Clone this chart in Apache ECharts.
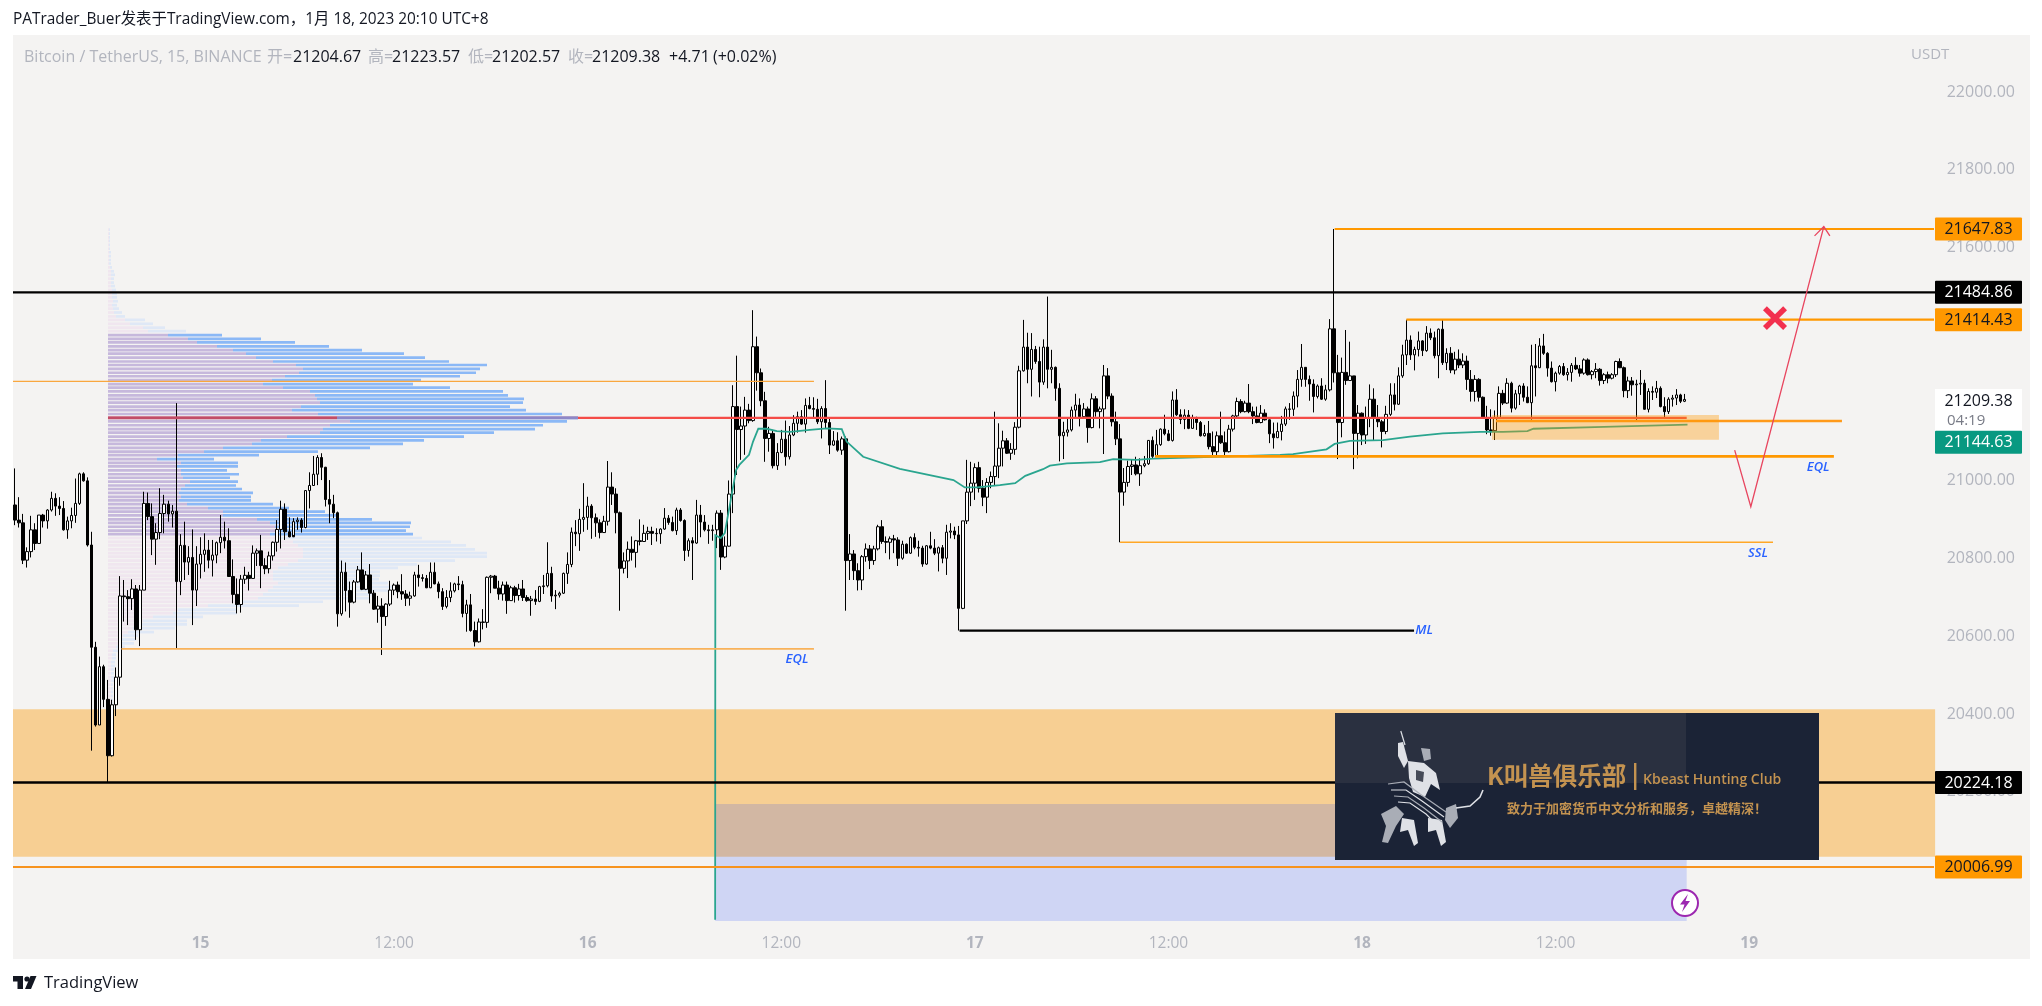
<!DOCTYPE html>
<html><head><meta charset="utf-8">
<script src="https://cdn.jsdelivr.net/npm/echarts@6/dist/echarts.min.js"></script>
<style>
html,body{margin:0;padding:0;background:#fff;width:2042px;height:1006px;overflow:hidden}
#panel{position:absolute;left:13px;top:35px;width:2017px;height:924px;background:#f4f3f2}
#c{position:absolute;left:0;top:0;width:2042px;height:1006px}
</style></head><body><div id="panel"></div><div id="c"></div>
<script>
const firstOpen = 20938;
const closes = [
20899,20892,20796,20818,20874,20839,20912,20897,20925,20955,
20935,20929,20874,20897,20911,20942,21018,21000,20835,20572,
20372,20522,20438,20293,20424,20495,20704,20702,20697,20722,
20617,20719,20942,20908,20850,20867,20916,20940,20915,20922,
20741,20834,20791,20803,20719,20786,20811,20822,20796,20809,
20841,20855,20846,20754,20708,20682,20747,20757,20749,20814,
20820,20782,20774,20807,20842,20875,20927,20869,20856,20895,
20899,20880,20975,20988,21017,21060,21035,20952,20940,20918,
20658,20765,20718,20688,20740,20771,20721,20758,20711,20670,
20678,20651,20683,20719,20732,20715,20709,20698,20704,20758,
20751,20749,20725,20765,20735,20715,20677,20700,20717,20735,
20733,20659,20681,20615,20586,20637,20636,20752,20755,20724,
20709,20732,20692,20725,20705,20722,20700,20692,20696,20690,
20728,20730,20762,20704,20706,20711,20762,20785,20868,20864,
20901,20906,20935,20905,20892,20867,20896,20984,20966,20918,
20775,20794,20824,20816,20846,20844,20865,20870,20865,20864,
20876,20904,20893,20872,20925,20898,20821,20846,20840,20912,
20894,20874,20872,20874,20917,20804,20832,20966,21191,21132,
21141,21182,21155,21345,21278,21206,21109,21122,21039,21073,
21107,21062,21118,21148,21165,21146,21194,21186,21184,21152,
21186,21150,21092,21103,21079,21108,20795,20812,20769,20745,
20805,20825,20795,20825,20882,20844,20842,20851,20848,20801,
20837,20814,20854,20829,20827,20786,20833,20827,20814,20828,
20801,20868,20871,20861,20672,20897,20971,20994,21034,20981,
20958,20996,21011,21038,21084,21103,21071,21081,21138,21283,
21344,21287,21338,21307,21254,21344,21287,21292,21238,21116,
21125,21131,21182,21195,21165,21185,21137,21211,21178,21185,
21270,21218,21152,21108,20971,20996,21037,21041,21018,21039,
21044,21104,21063,21093,21133,21121,21104,21208,21170,21158,
21169,21135,21161,21150,21116,21122,21088,21075,21116,21098,
21075,21133,21167,21204,21178,21200,21178,21167,21150,21174,
21157,21121,21111,21127,21146,21185,21184,21218,21261,21292,
21261,21249,21217,21244,21210,21234,21391,21278,21150,21279,
21258,21270,21122,21174,21118,21161,21210,21161,21152,21127,
21171,21221,21197,21270,21324,21362,21324,21338,21360,21335,
21380,21368,21322,21390,21304,21328,21285,21313,21298,21308,
21261,21230,21261,21215,21163,21131,21129,21161,21225,21200,
21251,21187,21224,21244,21215,21201,21296,21291,21347,21328,
21290,21255,21277,21294,21273,21279,21297,21288,21277,21311,
21273,21281,21287,21258,21273,21264,21273,21307,21291,21232,
21257,21247,21249,21251,21184,21230,21228,21238,21191,21178,
21210,21213,21221,21204.67,21209.38];
const highs = [
21032,20958,20915,20829,20910,20891,20912,20915,20927,20972,
20968,20958,20948,20908,20931,21006,21021,21022,21009,20869,
20586,20548,20527,20488,20437,20520,20755,20745,20719,20747,
20732,20732,20972,20970,20942,20891,20981,20964,20949,20938,
21200,20863,20895,20832,20875,20832,20855,20865,20848,20848,
20844,20912,20895,20878,20798,20749,20758,20779,20766,20834,
20826,20861,20801,20818,20844,20899,20949,20942,20906,20904,
20906,20904,20976,21022,21064,21066,21071,21036,21002,20964,
20921,20795,20790,20741,20745,20781,20816,20768,20786,20719,
20704,20698,20685,20743,20736,20741,20760,20719,20715,20766,
20784,20760,20758,20790,20790,20741,20724,20719,20739,20738,
20755,20743,20694,20709,20638,20646,20670,20754,20758,20758,
20743,20741,20741,20730,20730,20735,20745,20706,20704,20719,
20730,20758,20842,20779,20719,20715,20764,20816,20880,20899,
20928,20994,20959,20940,20916,20901,20910,21051,21022,20981,
20921,20816,20844,20857,20848,20901,20887,20882,20882,20878,
20878,20930,20912,20908,20931,20930,20901,20852,20855,20951,
20938,20912,20887,20887,20924,20925,20857,21001,21246,21322,
21191,21216,21198,21439,21371,21289,21229,21139,21131,21097,
21131,21155,21141,21169,21178,21182,21212,21216,21215,21211,
21192,21259,21161,21128,21125,21114,21114,20863,20822,20788,
20809,20839,20835,20833,20887,20899,20857,20857,20861,20855,
20846,20839,20857,20865,20846,20833,20835,20869,20850,20831,
20835,20887,20891,20882,20884,20897,21054,21049,21045,21049,
21002,21007,21024,21178,21148,21129,21110,21097,21151,21296,
21414,21381,21380,21347,21345,21364,21474,21337,21294,21251,
21152,21161,21191,21224,21212,21200,21191,21225,21218,21191,
21298,21290,21225,21178,21146,21033,21052,21054,21062,21058,
21064,21105,21114,21131,21135,21170,21131,21230,21236,21184,
21184,21182,21170,21165,21154,21144,21154,21127,21127,21178,
21127,21144,21170,21214,21210,21206,21249,21191,21191,21195,
21184,21158,21150,21150,21167,21191,21200,21230,21285,21352,
21292,21271,21261,21248,21264,21247,21416,21647.83,21324,21317,
21388,21358,21270,21195,21176,21191,21248,21238,21195,21157,
21193,21251,21251,21292,21350,21414.43,21374,21345,21384,21362,
21398,21392,21384,21392,21414,21341,21344,21332,21338,21328,
21322,21285,21272,21264,21217,21193,21184,21181,21243,21234,
21264,21255,21234,21247,21251,21243,21350,21352,21367,21378,
21331,21307,21281,21298,21303,21290,21303,21318,21298,21315,
21315,21285,21303,21290,21277,21281,21277,21309,21315,21294,
21268,21267,21260,21285,21260,21238,21243,21257,21243,21215,
21215,21221,21236,21224,21223.57];
const lows = [
20886,20880,20786,20777,20803,20822,20839,20880,20877,20921,
20910,20912,20872,20851,20878,20892,20938,20998,20831,20306,
20368,20372,20418,20224.18,20291,20395,20473,20638,20629,20668,
20591,20575,20719,20899,20809,20784,20850,20865,20895,20880,
20569,20706,20745,20758,20629,20678,20749,20766,20775,20754,
20788,20814,20826,20754,20685,20659,20661,20735,20718,20749,
20781,20724,20760,20762,20795,20818,20826,20848,20855,20861,
20874,20867,20878,20929,20987,20989,21002,20934,20891,20904,
20625,20653,20664,20648,20685,20738,20719,20719,20685,20668,
20635,20552,20627,20678,20706,20698,20694,20678,20679,20702,
20728,20741,20724,20724,20734,20698,20668,20672,20688,20713,
20719,20649,20612,20612,20574,20584,20618,20622,20711,20724,
20694,20692,20658,20691,20687,20692,20691,20689,20653,20681,
20688,20709,20726,20689,20670,20700,20709,20735,20778,20832,
20820,20869,20874,20851,20856,20852,20868,20885,20938,20865,
20666,20762,20750,20795,20777,20834,20844,20848,20835,20844,
20838,20874,20887,20870,20861,20895,20794,20805,20745,20838,
20855,20870,20838,20846,20827,20771,20801,20831,20917,21015,
21054,21067,21148,21152,21232,21192,21049,21075,21032,21028,
21071,21039,21055,21115,21124,21144,21124,21184,21163,21146,
21109,21135,21069,21090,21075,21067,20666,20745,20745,20718,
20719,20792,20773,20784,20821,20838,20814,20798,20814,20781,
20797,20812,20812,20824,20805,20779,20784,20824,20809,20767,
20788,20758,20852,20850,20615,20670,20889,20935,20951,20970,
20935,20917,20981,20989,21007,21037,21069,21054,21067,21135,
21281,21251,21217,21301,21215,21247,21238,21251,21206,21050,
21056,21114,21127,21161,21140,21161,21098,21135,21165,21135,
21069,21210,21140,21092,20842,20936,20985,21015,21014,20987,
21035,21041,21058,21063,21090,21117,21102,21101,21167,21146,
21133,21133,21134,21131,21114,21114,21081,21063,21063,21095,
21063,21073,21127,21164,21174,21176,21174,21146,21148,21148,
21155,21097,21083,21110,21104,21141,21157,21167,21189,21242,
21242,21206,21176,21212,21208,21206,21230,21253,21056,21112,
21247,21258,21030,21058,21092,21095,21138,21105,21138,21086,
21120,21167,21181,21195,21265,21298,21311,21284,21320,21321,
21332,21362,21315,21264,21298,21285,21277,21274,21290,21290,
21234,21204,21204,21204,21161,21120,21116,21105,21159,21195,
21198,21176,21183,21195,21204,21200,21157,21217,21290,21324,
21268,21253,21230,21273,21270,21258,21255,21285,21268,21273,
21271,21261,21264,21245,21249,21251,21261,21267,21290,21215,
21213,21219,21153,21221,21183,21176,21208,21213,21189,21161,
21172,21191,21195,21200,21202.57];

// time slots on the 15 minute axis; slot index -> tick label
const slotCount = 476;
const tickSlots  = [46,94,142,190,238,286,334,382,430];
const tickLabels = ['15','12:00','16','12:00','17','12:00','18','12:00','19'];

// visible-range volume profile (price bins, sell part, whole bar)
const profilePrices = [
21646,21636,21626,21617,21607,21597,21588,21578,21568,21559,21549,21539,21530,21520,21510,21501,21491,21481,21472,21462,21452,21443,21433,21423,21414,21404,21394,21385,
21375,21365,21356,21346,21336,21327,21317,21307,21298,21288,21278,21269,21259,21249,21240,21230,21220,21211,21201,21191,21182,21172,21162,21153,21143,21133,
21124,21114,21104,21095,21085,21075,21066,21056,21046,21037,21027,21017,21008,20998,20988,20979,20969,20959,20950,20940,20930,20921,20911,20901,20892,20882,20872,20863,
20853,20843,20834,20824,20814,20805,20795,20785,20776,20766,20756,20747,20737,20727,20718,20708,20698,20689,20679,20669,20660,20650,20640,20631,20621,20611,20602,20592,
20582,20573,20563,20553,20544,20534,20524,20515,20505,20495,20486,20476,20466,20457,20447,20437,20428,20418,20408,20399,20389,20379,20370,20360,20350,20341];
const profileSell = [
1,1,1,1,1,1,1,1,1,1,2,3,3,3,3,3,4,4,4,5,4,5,6,8,17,22,35,40,
60,80,89,109,125,138,148,165,188,195,191,177,164,155,175,202,207,209,212,193,184,210,229,242,
222,215,212,179,153,144,115,96,70,49,73,68,73,73,75,82,77,73,71,73,71,79,100,115,115,149,162,167,167,162,
170,185,190,195,195,195,190,180,170,165,165,165,170,165,160,155,150,130,100,70,65,45,35,30,25,20,15,12,10,8,5,
4,4,3,3,3,3,3,3,3,3,3,3,3,3,3,2,2,2,2,2,2,2,2,2,2,2,2,2,2,2,2,2,2,2];
const profileTotal = [
2,2,2,2,2,2,3,3,3,3,4,6,7,6,6,7,8,9,9,10,9,11,14,17,37,45,57,78,
114,153,187,221,254,296,317,341,379,372,368,352,313,305,342,395,400,416,415,402,418,454,470,459,
435,427,386,356,316,295,262,210,151,106,130,130,119,131,122,130,128,134,145,143,143,165,181,217,229,264,303,302,298,305,
314,343,358,367,379,379,347,309,290,272,272,271,280,285,283,265,262,215,191,129,129,95,79,79,67,46,30,28,26,17,10,
8,8,7,7,6,6,6,6,5,5,5,5,5,5,5,5,4,4,4,4,4,4,4,4,4,4,4,3,3,3,3,3,3,3,3];
const valueAreaTop = 21375, valueAreaBottom = 20863;
const pocPrice = 21162, pocSell = 229, pocTotal = 470;

// horizontal levels: price, first slot, last slot
const levelPrices = [21484.86,20224.18,21647.83,21414.43,20006.99,21256,20567.6,20842,21063,21154,20614.6,21162];
const levelStarts = [-0.5,-0.5,327.2,345,-0.5,-0.5,26.4,274,282.7,367.2,234.2,23.05];
const levelEnds   = [476.1,476.1,476.1,476.1,476.1,198.1,198.1,435.9,451,453,346.9,414.5];

// session VWAP
const vwapSlots = [173.6,173.65,175,176,178.8,179.6,182,183,184.3,186.4,188.9,192.2,197.1,201.3,205,206.2,210.3,219.4,232.7,235.5,238.5,244.2,248,250.5,254.9,256.6,260.8,269,272.3,278.1,282.2,297,305.4,313.7,316.9,325.2,327.2,331,339.2,345.9,354,363.3,369,375,376.5,394,414.7];
const vwapPrices = [19871,20860,20853,20866,21028,21041,21067,21101,21134,21134,21128,21126,21131,21135,21133,21101,21062,21031,21002,20983,20983,20989,20994,21013,21030,21039,21045,21048,21056,21054,21057,21062,21064,21067,21069,21081,21095,21103,21105,21114,21122,21126,21126,21128,21134,21139,21144.63];

// shaded zones: first slot, last slot, top price, bottom price
const zoneStarts = [-0.5,173.6,366.2];
const zoneEnds   = [476.1,414.5,422.5];
const zoneTops   = [20412.5,20168.9,21169.4];
const zoneBottoms= [20033.4,19868,21105.9];

// drawn projection path and cross
const pathSlots = [426.4,430.4,448.5];
const pathPrices = [21079,20933.6,21654];
const headSlots = [446.2,448.5,450.0];
const headPrices = [21630,21654,21630];
const crossA = [[433.9,21444],[438.9,21393]];
const crossB = [[433.9,21393],[438.9,21444]];

// text notes
const noteTexts = ['EQL','ML','EQL','SSL'];
const noteSlots = [193.9,349.4,447.1,432.2];
const notePrices = [20542,20616.4,21035.7,20814.5];

// price tags on the axis
const tagTexts = ['21647.83','21484.86','21414.43','21144.63','20224.18','20006.99'];
const tagAnchors = [21647.83,21484.86,21414.43,21099,20224.18,20006.99];
const liveClose = '21209.38', liveTimer = '04:19', liveAnchor = 21182;

const sans = '"Open Sans","Noto Sans CJK SC",sans-serif';
const tagStyles = [['#ff9800','#131722'],['#000','#fff'],['#ff9800','#131722'],['#089981','#fff'],['#000','#fff'],['#ff9800','#131722']];
const levelStyles = [['#000',2.4],['#000',2.4],['#ff9800',2.2],['#ff9800',2.2],['#f7931e',2],['#f9a73e',1.3],['#f9b25a',1.8],['#ffa726',1.6],['#ff9800',2.6],['#ff9a1a',2.4],['#000',2.2],['#f44b47',2.2]];

const candles = closes.map((c,i)=>[i?closes[i-1]:firstOpen,c,lows[i],highs[i]]);
const slots = Array.from({length:slotCount},(_,i)=>String(i));
const tickMap = {}; tickSlots.forEach((s,i)=>tickMap[s]=tickLabels[i]);

function seg(name,pts,color,width,z){
  return {name,type:'line',xAxisIndex:1,yAxisIndex:0,data:pts,symbol:'none',clip:false,z,silent:true,animation:false,
    lineStyle:{color,width,cap:'butt',join:'miter'}};
}
const series=[];
series.push({type:'custom',name:'zoneBack',xAxisIndex:1,yAxisIndex:0,z:1,silent:true,animation:false,
  data:[0,1].map(i=>[zoneStarts[i],zoneEnds[i],zoneTops[i],zoneBottoms[i],i]),
  encode:{x:[0,1],y:[2,3]},
  renderItem(p,api){
    const a=api.coord([api.value(0),api.value(2)]),b=api.coord([api.value(1),api.value(3)]);
    return {type:'rect',shape:{x:a[0],y:a[1],width:b[0]-a[0],height:b[1]-a[1]},
      style:{fill:api.value(4)===0?'#f7cf93':'rgba(0,50,255,0.15)'}};
  }});
series.push({type:'custom',name:'profile',xAxisIndex:2,yAxisIndex:0,z:1.5,silent:true,animation:false,
  data:profilePrices.map((p,i)=>[p,profileSell[i],profileTotal[i]]),
  encode:{x:[1,2],y:0},
  renderItem(p,api){
    const pr=api.value(0),a=api.coord([0,pr]),b=api.coord([api.value(1),pr]),c=api.coord([api.value(2),pr]);
    const dark=pr<=valueAreaTop&&pr>=valueAreaBottom;
    const h=2.7;
    return {type:'group',children:[
      {type:'rect',shape:{x:a[0],y:a[1]-h/2,width:b[0]-a[0],height:h},style:{fill:dark?'#c6b8dc':'#f0e6ef'}},
      {type:'rect',shape:{x:b[0],y:a[1]-h/2,width:c[0]-b[0],height:h},style:{fill:dark?'#8bb8f6':'#dfe8f6'}}
    ]};
  }});
series.push({type:'candlestick',name:'BTCUSDT',xAxisIndex:0,yAxisIndex:0,z:3,silent:true,animation:false,barWidth:3,
  data:candles,
  itemStyle:{color:'#ffffff',color0:'#000000',borderColor:'#000000',borderColor0:'#000000',borderWidth:1}});
series.push(seg('vwap',vwapSlots.map((s,i)=>[s,vwapPrices[i]]),'#2aa58f',1.8,4));
levelPrices.forEach((p,i)=>series.push(seg('level'+i,[[levelStarts[i],p],[levelEnds[i],p]],levelStyles[i][0],levelStyles[i][1],5)));
series.push({type:'custom',name:'poc',xAxisIndex:2,yAxisIndex:0,z:6,silent:true,animation:false,
  data:[[pocPrice,pocSell,pocTotal]],encode:{x:[1,2],y:0},
  renderItem(p,api){
    const pr=api.value(0),a=api.coord([0,pr]),b=api.coord([api.value(1),pr]),c=api.coord([api.value(2),pr]);
    const h=2.7;
    return {type:'group',children:[
      {type:'rect',shape:{x:a[0],y:a[1]-h/2,width:b[0]-a[0],height:h},style:{fill:'#c24d68'}},
      {type:'rect',shape:{x:b[0],y:a[1]-h/2,width:c[0]-b[0],height:h},style:{fill:'#8d88c8'}}
    ]};
  }});
series.push({type:'custom',name:'zoneFront',xAxisIndex:1,yAxisIndex:0,z:7,silent:true,animation:false,
  data:[[zoneStarts[2],zoneEnds[2],zoneTops[2],zoneBottoms[2]]],encode:{x:[0,1],y:[2,3]},
  renderItem(p,api){
    const a=api.coord([api.value(0),api.value(2)]),b=api.coord([api.value(1),api.value(3)]);
    return {type:'rect',shape:{x:a[0],y:a[1],width:b[0]-a[0],height:b[1]-a[1]},style:{fill:'rgba(255,152,0,0.36)'}};
  }});
series.push(seg('path',pathSlots.map((s,i)=>[s,pathPrices[i]]),'#e8455f',1.3,8));
series.push(seg('head',headSlots.map((s,i)=>[s,headPrices[i]]),'#e8455f',1.3,8));
series.push(seg('crossA',crossA,'#f2304f',5.5,8));
series.push(seg('crossB',crossB,'#f2304f',5.5,8));
series.push({type:'custom',name:'notes',xAxisIndex:1,yAxisIndex:0,z:8,silent:true,animation:false,
  data:noteTexts.map((t,i)=>[noteSlots[i],notePrices[i],i]),encode:{x:0,y:1},
  renderItem(p,api){
    const a=api.coord([api.value(0),api.value(1)]);
    return {type:'text',style:{text:noteTexts[api.value(2)],x:a[0],y:a[1],align:'center',verticalAlign:'middle',fill:'#2962ff',font:'italic 600 13px "Open Sans",sans-serif'}};
  }});
series.push({type:'custom',name:'tags',xAxisIndex:1,yAxisIndex:0,z:20,silent:true,animation:false,
  data:tagTexts.map((t,i)=>[470,tagAnchors[i],i]),encode:{x:0,y:1},
  renderItem(p,api){
    const i=api.value(2),a=api.coord([api.value(0),api.value(1)]),left=p.coordSys.x+p.coordSys.width+2.3,st=tagStyles[i];
    return {type:'group',children:[
      {type:'rect',shape:{x:left,y:a[1]-11.5,width:87,height:23,r:1},style:{fill:st[0]}},
      {type:'text',style:{text:tagTexts[i],x:left+43.5,y:a[1]+0.5,align:'center',verticalAlign:'middle',fill:st[1],font:'16px '+sans}}
    ]};
  }});
series.push({type:'custom',name:'live',xAxisIndex:1,yAxisIndex:0,z:19,silent:true,animation:false,
  data:[[470,liveAnchor]],encode:{x:0,y:1},
  renderItem(p,api){
    const a=api.coord([api.value(0),api.value(1)]),left=p.coordSys.x+p.coordSys.width+2.3;
    return {type:'group',children:[
      {type:'rect',shape:{x:left,y:a[1]-21,width:87,height:42},style:{fill:'#fff'}},
      {type:'text',style:{text:liveClose,x:left+43.5,y:a[1]-9,align:'center',verticalAlign:'middle',fill:'#131722',font:'16px '+sans}},
      {type:'text',style:{text:liveTimer,x:left+12,y:a[1]+11,align:'left',verticalAlign:'middle',fill:'#787b86',font:'15px '+sans}}
    ]};
  }});

const txt=(x,y,text,fill,font,z)=>({type:'text',z:z||50,silent:true,style:{x,y,text,fill,font,verticalAlign:'middle'}});
const poly=(points,fill,z)=>({type:'polygon',z:z||110,silent:true,shape:{points},style:{fill}});
const stroke=(points,color,w)=>({type:'polyline',z:111,silent:true,shape:{points},style:{stroke:color,fill:null,lineWidth:w}});
const headerGray='#b2b5be',headerDark='#131722';
const hf='16px '+sans;
const ink='#dfe1e6',ink2='#a9adb6',gold='#c49350';
const graphic=[
  txt(13,20,'PATrader_Buer发表于TradingView.com，1月 18, 2023 20:10 UTC+8','#131722','15.4px '+sans),
  txt(24,57,'Bitcoin / TetherUS, 15, BINANCE',headerGray,hf),
  txt(267,57,'开=',headerGray,hf),txt(293,57,'21204.67',headerDark,hf),
  txt(368,57,'高=',headerGray,hf),txt(392,57,'21223.57',headerDark,hf),
  txt(468,57,'低=',headerGray,hf),txt(492,57,'21202.57',headerDark,hf),
  txt(568,57,'收=',headerGray,hf),txt(592,57,'21209.38',headerDark,hf),
  txt(669,57,'+4.71',headerDark,hf),txt(713,57,'(+0.02%)',headerDark,hf),
  txt(1911,55,'USDT',headerGray,'15px '+sans),
  poly([[13,976],[23,976],[23,989],[17.5,989],[17.5,981.5],[13,981.5]],'#131722',50),
  {type:'circle',z:50,silent:true,shape:{cx:27,cy:979,r:2.6},style:{fill:'#131722'}},
  poly([[30.5,976],[36.5,976],[31,989],[25,989]],'#131722',50),
  txt(44,983,'TradingView','#131722','500 16.5px '+sans),
  // sponsor banner
  {type:'rect',z:100,silent:true,shape:{x:1335,y:713,width:484,height:147},style:{fill:'#1b2336'}},
  {type:'rect',z:101,silent:true,shape:{x:1335,y:713,width:351,height:70},style:{fill:'#2a3040'}},
  stroke([[1400.8,731],[1405,745]],ink,1.2),
  poly([[1398,743],[1403,742],[1408,761],[1404,768],[1398,756]],ink),
  poly([[1421,748],[1430,749],[1431,759],[1424,761]],ink2),
  poly([[1408,761],[1424,763],[1436,773],[1440,790],[1431,784],[1425,797],[1413,792],[1409,778]],ink),
  poly([[1416,770],[1424,772],[1423,782],[1416,780]],'#454a57'),
  stroke([[1388,784],[1404,782],[1420,794],[1446,812]],ink2,1.2),
  stroke([[1391,790],[1406,790],[1422,801],[1444,817]],ink,1.2),
  stroke([[1394,796],[1408,797],[1424,808],[1442,822]],ink2,1.2),
  stroke([[1398,802],[1410,803],[1426,814],[1438,826]],ink,1.2),
  poly([[1381,814],[1396,806],[1404,814],[1396,826],[1388,843],[1382,842],[1386,826]],ink2),
  poly([[1402,818],[1414,820],[1418,843],[1414,846],[1408,830],[1400,832]],ink),
  poly([[1428,818],[1442,820],[1446,842],[1441,846],[1436,830],[1428,832]],ink),
  poly([[1446,808],[1456,804],[1458,818],[1450,828],[1445,820]],ink2),
  stroke([[1456,808],[1470,806],[1480,797],[1483,790]],ink,1.6),
  txt(1487,776,'K叫兽俱乐部',gold,'bold 24.5px "Noto Sans CJK SC",sans-serif',115),
  {type:'rect',z:115,silent:true,shape:{x:1634,y:763,width:2.4,height:27},style:{fill:gold}},
  txt(1643,780,'Kbeast Hunting Club',gold,'600 14px "Open Sans",sans-serif',115),
  txt(1507,808,'致力于加密货币中文分析和服务，卓越精深！',gold,'bold 13px "Noto Sans CJK SC",sans-serif',115),
  {type:'circle',z:60,silent:true,shape:{cx:1685,cy:903,r:13},style:{fill:'#fff',stroke:'#9c27b0',lineWidth:2}},
  poly([[1688,894],[1680,904.5],[1684.5,904.5],[1682,912],[1690,901],[1685.5,901]],'#9c27b0',61)
];

const chart=echarts.init(document.getElementById('c'),null,{renderer:'canvas'});
chart.setOption({
  backgroundColor:'transparent',animation:false,
  tooltip:{show:false},legend:{show:false},
  grid:{left:13,top:14.3,width:1919.7,height:933.1,containLabel:false},
  xAxis:[
    {type:'category',data:slots,boundaryGap:true,axisLine:{show:false},axisTick:{show:false},splitLine:{show:false},
     axisLabel:{interval:0,margin:-12,hideOverlap:false,color:'#b2b5be',fontSize:15.5,fontFamily:'"Open Sans",sans-serif',
       formatter:(v,i)=>tickMap[i]?(/:/.test(tickMap[i])?tickMap[i]:'{d|'+tickMap[i]+'}'):'',
       rich:{d:{fontWeight:'bold',fontSize:15.5,color:'#b2b5be'}}}},
    {type:'value',show:false,min:-0.5,max:475.5,splitLine:{show:false}},
    {type:'value',show:false,min:-95,max:1824.7,splitLine:{show:false}}
  ],
  yAxis:[{type:'value',position:'right',min:19800,max:22200,interval:200,
    axisLine:{show:false},axisTick:{show:false},splitLine:{show:false},
    axisLabel:{margin:14,color:'#b2b5be',fontSize:16,fontFamily:'"Open Sans",sans-serif',
      formatter:v=>(v<=19800||v>=22200)?'':v.toFixed(2)}}],
  series,graphic
});
</script></body></html>
